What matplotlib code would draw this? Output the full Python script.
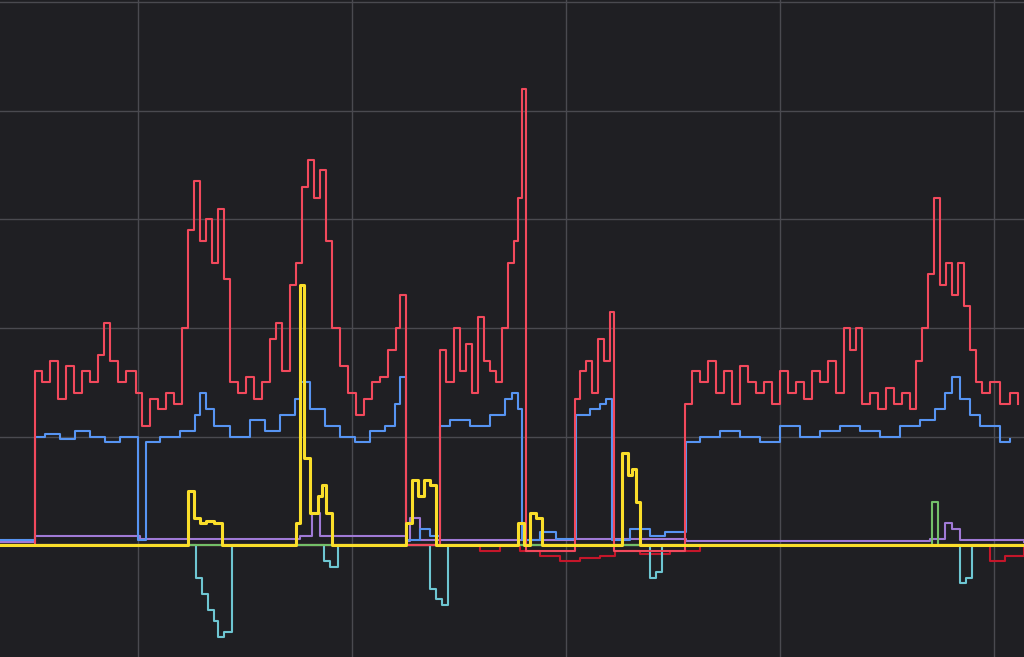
import matplotlib
matplotlib.use("Agg")
import matplotlib.pyplot as plt

red_x = [0,35,42,50,58,66,74,82,90,98,104,110,118,126,136,142,150,158,166,174,182,188,194,200,206,212,218,224,230,238,246,254,262,270,276,282,290,296,302,308,314,320,326,332,340,348,356,364,372,380,388,396,400,406,440,446,454,460,466,472,478,484,490,496,502,508,514,518,522,526,575,580,586,592,598,604,610,614,685,692,700,708,716,724,732,740,748,756,764,772,780,788,796,804,812,820,828,836,844,850,856,862,870,878,886,894,902,910,916,922,928,934,940,946,952,958,964,970,976,982,990,1000,1010,1018]
red_y = [0,160,150,170,135,165,140,160,150,175,205,170,150,160,140,110,135,125,140,130,200,290,335,280,300,260,310,245,150,140,155,135,150,190,205,160,240,260,330,355,320,345,280,200,165,140,120,135,150,155,180,200,230,0,180,150,200,160,185,140,210,170,160,150,200,260,280,320,420,-5,135,160,170,140,190,170,215,-5,130,160,150,170,140,160,130,165,150,140,150,130,160,140,150,135,160,150,170,140,200,180,200,130,140,125,145,130,140,125,170,200,250,320,240,260,230,260,220,180,150,140,150,130,140,130]
blue_x = [0,35,45,60,75,90,105,120,138,146,160,180,195,200,206,214,230,250,265,280,295,300,310,325,340,355,370,385,395,400,406,420,430,440,450,470,490,505,512,518,522,540,556,576,590,600,606,612,630,650,665,686,700,720,740,760,780,800,820,840,860,880,900,920,935,945,952,960,970,980,1000,1010]
blue_y = [5,100,102,98,105,100,95,100,5,95,100,105,120,140,125,110,100,115,105,120,135,150,125,110,100,95,105,110,130,155,5,15,8,110,115,110,120,135,140,125,5,12,6,120,125,130,135,5,15,8,12,95,100,105,100,95,110,100,105,110,105,100,110,115,125,140,155,135,120,110,95,98]
yel_x = [0,183,188,194,200,206,214,222,290,296,300,304,310,318,322,326,332,400,406,412,418,424,430,436,512,518,524,530,536,542,618,622,628,632,636,640,1024]
yel_y = [0,0,50,25,20,22,20,0,0,20,240,80,30,45,55,30,0,0,20,60,45,60,55,0,0,20,0,30,25,0,0,85,65,70,40,0,0]
cyan_x = [0,190,196,202,208,214,218,224,232,318,324,330,338,425,430,436,442,448,645,650,656,662,955,960,966,972,1024]
cyan_y = [0,0,-30,-45,-60,-70,-85,-80,0,0,-15,-20,0,0,-40,-50,-55,0,0,-30,-25,0,0,-35,-30,0,0]
purp_x = [0,35,140,300,312,320,406,410,420,575,686,930,945,952,960,1024]
purp_y = [3,8,6,8,30,8,4,25,5,6,4,6,20,15,5,3]
dred_x = [0,460,480,500,520,540,560,580,600,615,640,670,700,980,990,1005,1024]
dred_y = [0,0,-5,0,-5,-10,-15,-12,-10,-5,-8,-5,0,0,-15,-10,0]
green_x = [0,928,932,938,1024]
green_y = [0,0,40,0,0]

fig = plt.figure(figsize=(10.24, 6.57), dpi=100)
fig.patch.set_facecolor("#1f1f23")
ax = fig.add_axes([0, 0, 1, 1])
ax.set_facecolor("#1f1f23")
ax.set_xlim(0, 1024)
ax.set_ylim(-103, 502)
ax.set_xticks([138, 352, 566, 780, 994])
ax.set_yticks([0, 100, 200, 300, 400, 500])
ax.grid(True, color="#4a4a50", linewidth=1)
ax.tick_params(length=0, labelbottom=False, labelleft=False)
for s in ax.spines.values():
    s.set_visible(False)

kw = dict(where="post", linewidth=1.5)
ax.step(dred_x, dred_y, color="#c4162a", **kw)
ax.step(purp_x, purp_y, color="#a07ad6", **kw)
ax.step(cyan_x, cyan_y, color="#6ec6d2", **kw)
ax.step(green_x, green_y, color="#73bf69", **kw)
ax.step(blue_x, blue_y, color="#5794f2", **kw)
ax.step(red_x, red_y, color="#f2495c", **kw)
ax.step(yel_x, yel_y, color="#fade2a", linewidth=2.2, where="post")
ax.axhline(0, color="#ff9830", linewidth=1.5, zorder=1.5)
fig.savefig("out.png", dpi=100, facecolor=fig.get_facecolor())
